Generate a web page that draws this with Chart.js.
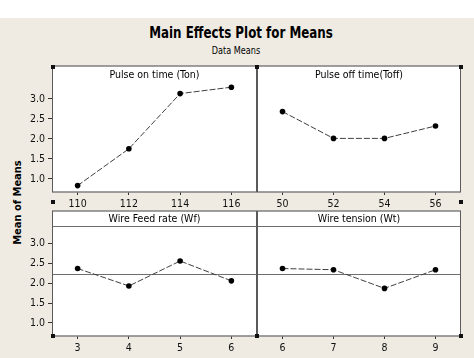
<!DOCTYPE html>
<html><head><meta charset="utf-8">
<script src="https://cdn.jsdelivr.net/npm/chart.js@4/dist/chart.umd.min.js"></script>
<style>
html,body{margin:0;padding:0;}
body{width:474px;height:358px;position:relative;overflow:hidden;background:#efebe3;font-family:"DejaVu Sans Condensed","DejaVu Sans",sans-serif;}
#topstrip{position:absolute;left:0;top:0;width:474px;height:18px;background:#fff;}
canvas{position:absolute;left:0;top:0;}
.t{position:absolute;white-space:nowrap;color:#000;transform-origin:center center;}
.h{position:absolute;width:4px;height:4px;background:#111;}
</style></head>
<body>
<div id="topstrip"></div>
<div class="t" id="mt" style="left:4px;width:474px;text-align:center;top:24px;font-weight:bold;font-size:15px;transform:scaleX(0.88);">Main Effects Plot for Means</div>
<div class="t" style="left:-1px;width:474px;text-align:center;top:44px;font-size:11px;transform:scaleX(0.82);">Data Means</div>
<div class="t" id="yl" style="left:-33px;width:100px;text-align:center;top:196px;font-weight:bold;font-size:11px;transform:rotate(-90deg);">Mean of Means</div>
<canvas id="c0" width="474" height="358"></canvas>
<canvas id="c1" width="474" height="358"></canvas>
<canvas id="c2" width="474" height="358"></canvas>
<canvas id="c3" width="474" height="358"></canvas>
<div class="t" style="left:52px;width:205px;text-align:center;top:68px;font-size:10.5px;">Pulse on time (Ton)</div>
<div class="t" style="left:257px;width:204px;text-align:center;top:68px;font-size:10.5px;">Pulse off time(Toff)</div>
<div class="t" style="left:52px;width:205px;text-align:center;top:212px;font-size:10.5px;">Wire Feed rate (Wf)</div>
<div class="t" style="left:257px;width:204px;text-align:center;top:212px;font-size:10.5px;">Wire tension (Wt)</div>
<div class="h" style="left:51px;top:65px"></div>
<div class="h" style="left:255px;top:65px"></div>
<div class="h" style="left:459px;top:65px"></div>
<div class="h" style="left:51px;top:200px"></div>
<div class="h" style="left:459px;top:200px"></div>
<div class="h" style="left:51px;top:334px"></div>
<div class="h" style="left:255px;top:334px"></div>
<div class="h" style="left:459px;top:334px"></div>
<script>
// ---- data ----
const tonLabels  = ['110','112','114','116'];
const tonMeans   = [0.83, 1.75, 3.13, 3.29];
const toffLabels = ['50','52','54','56'];
const toffMeans  = [2.68, 2.01, 2.01, 2.32];
const wfLabels   = ['3','4','5','6'];
const wfMeans    = [2.37, 1.93, 2.56, 2.06];
const wtLabels   = ['6','7','8','9'];
const wtMeans    = [2.37, 2.34, 1.87, 2.34];
const yTicks     = [1.0, 1.5, 2.0, 2.5, 3.0];
const grandMean  = 2.23;
const stripLevel = 3.43;

const W = 474, H = 358, XH = 20;
const FONT = '"DejaVu Sans Condensed","DejaVu Sans",sans-serif';

const panels = [
  {id:'c0', labels:tonLabels,  data:tonMeans,  left:52,  right:257, top:66,  bottom:192, showY:true,  extra:false},
  {id:'c1', labels:toffLabels, data:toffMeans, left:257, right:461, top:66,  bottom:192, showY:false, extra:false},
  {id:'c2', labels:wfLabels,   data:wfMeans,   left:52,  right:257, top:211, bottom:336, showY:true,  extra:true},
  {id:'c3', labels:wtLabels,   data:wtMeans,   left:257, right:461, top:211, bottom:336, showY:false, extra:true}
];

const panelPlugin = {
  id:'panel',
  beforeDraw(chart){
    const a = chart.chartArea, ctx = chart.ctx;
    ctx.save();
    ctx.fillStyle = '#ffffff';
    ctx.fillRect(a.left, a.top, a.right - a.left, a.bottom - a.top);
    const o = chart.options.plugins.panel;
    if (o.extra) {
      const y = chart.scales.y;
      ctx.strokeStyle = '#6e6e6e';
      ctx.lineWidth = 1;
      [grandMean, stripLevel].forEach(v => {
        const py = Math.round(y.getPixelForValue(v)) + 0.5;
        ctx.beginPath(); ctx.moveTo(a.left, py); ctx.lineTo(a.right, py); ctx.stroke();
      });
    }
    ctx.restore();
  },
  afterDraw(chart){
    const a = chart.chartArea, ctx = chart.ctx;
    ctx.save();
    ctx.strokeStyle = '#808080';
    ctx.lineWidth = 1.5;
    ctx.beginPath();
    ctx.moveTo(a.left, a.top); ctx.lineTo(a.right, a.top);
    ctx.moveTo(a.left, a.bottom); ctx.lineTo(a.right, a.bottom);
    ctx.stroke();
    ctx.strokeStyle = '#5a5a5a';
    ctx.lineWidth = 1;
    ctx.beginPath();
    ctx.moveTo(a.left + 0.5, a.top); ctx.lineTo(a.left + 0.5, a.bottom);
    ctx.moveTo(a.right - 0.5, a.top); ctx.lineTo(a.right - 0.5, a.bottom);
    ctx.stroke();
    ctx.restore();
  }
};

panels.forEach(p => {
  new Chart(document.getElementById(p.id), {
    type:'line',
    data:{labels:p.labels, datasets:[{
      data:p.data, borderColor:'#404040', borderWidth:1, borderDash:[6,2], tension:0,
      pointRadius:2.8, pointBackgroundColor:'#000', pointBorderColor:'#000', pointBorderWidth:0,
      clip:false
    }]},
    options:{
      responsive:false, animation:false, devicePixelRatio:1, events:[],
      layout:{padding:{left: p.showY ? 0 : p.left, right: W - p.right, top: p.top, bottom: H - p.bottom - XH}},
      plugins:{legend:{display:false}, tooltip:{enabled:false}, panel:{extra:p.extra}},
      scales:{
        x:{type:'category', offset:true,
           grid:{display:true, drawOnChartArea:false, drawTicks:true, tickLength:3, color:'#333', offset:false},
           border:{display:false},
           ticks:{font:{family:FONT, size:10.5}, color:'#111', padding:3, maxRotation:0, autoSkip:false},
           afterFit(s){ s.height = XH; }},
        y:{type:'linear', min:0.67, max:3.82,
           afterBuildTicks(s){ s.ticks = yTicks.map(v => ({value:v})); },
           ticks:{display:p.showY, font:{family:FONT, size:10.5}, color:'#111', padding:3,
                  callback:v => Number(v).toFixed(1)},
           grid:{display:p.showY, drawOnChartArea:false, drawTicks:true, tickLength:4, color:'#333'},
           border:{display:false},
           afterFit(s){ s.width = p.showY ? p.left : 0; }}
      }
    },
    plugins:[panelPlugin]
  });
});
</script>
</body></html>
